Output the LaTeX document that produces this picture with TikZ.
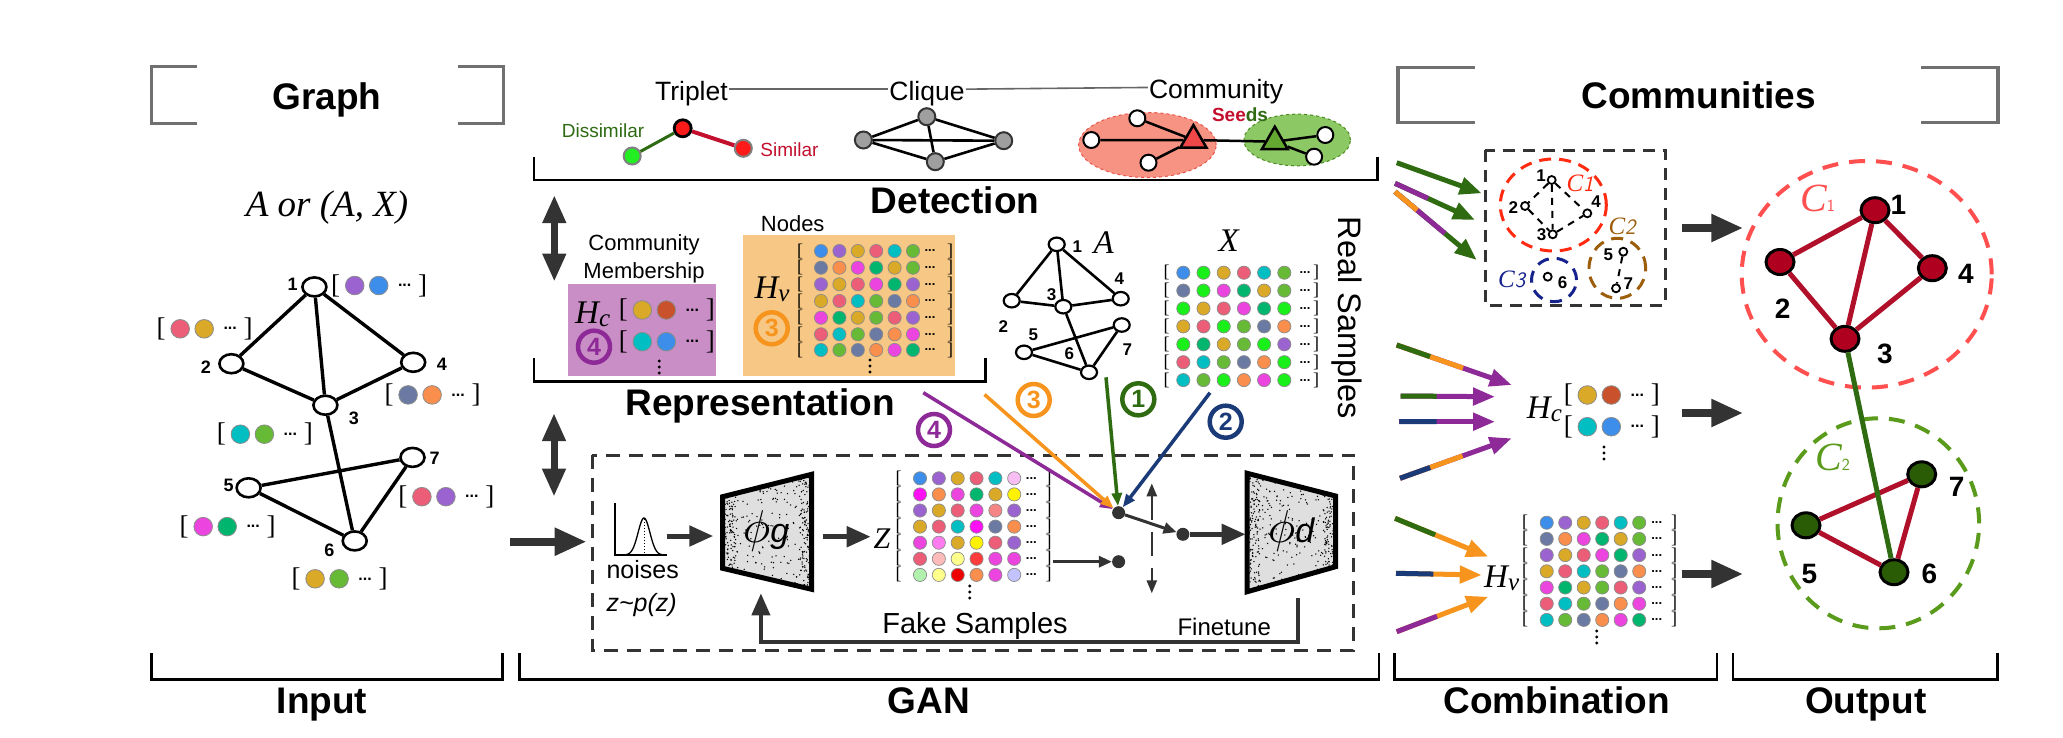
\documentclass[tikz,border=0pt]{standalone}
\usepackage{fontspec}
\setmainfont{Liberation Sans}
\newfontfamily\tms{Liberation Serif}
\usetikzlibrary{arrows.meta,shapes.geometric,calc}

\definecolor{dgray}{HTML}{333333}
\definecolor{bgray}{HTML}{707070}
\definecolor{circb}{HTML}{8C8C8C}
\definecolor{cBlue}{HTML}{3D8EEA}
\definecolor{cPurple}{HTML}{9B63CF}
\definecolor{cGold}{HTML}{D9A927}
\definecolor{cPink}{HTML}{EC5D78}
\definecolor{cCyan}{HTML}{00BEC2}
\definecolor{cGreen}{HTML}{67BA36}
\definecolor{cSlate}{HTML}{6A7AA3}
\definecolor{cOrange}{HTML}{F98E4D}
\definecolor{cMag}{HTML}{EC44DE}
\definecolor{cTeal}{HTML}{00B56E}
\definecolor{cBright}{HTML}{19F019}
\definecolor{cRust}{HTML}{C9512C}
\definecolor{cLpink}{HTML}{F8BDF3}
\definecolor{cFmag}{HTML}{FF10F5}
\definecolor{cYel}{HTML}{FFF200}
\definecolor{cSalm}{HTML}{F58585}
\definecolor{cPinkb}{HTML}{FF7CF0}
\definecolor{cLsalm}{HTML}{FFBABA}
\definecolor{cLyel}{HTML}{FFFF8C}
\definecolor{cRed}{HTML}{FF3B3B}
\definecolor{cRedb}{HTML}{EE0000}
\definecolor{cLgreen}{HTML}{B2F0AE}
\definecolor{cLav}{HTML}{C3C3FF}
\definecolor{kPur}{HTML}{8E2A97}
\definecolor{kOra}{HTML}{F7941D}
\definecolor{kGrn}{HTML}{2F6B10}
\definecolor{kNav}{HTML}{1B3A78}
\definecolor{boxPur}{HTML}{C98EC6}
\definecolor{boxOra}{HTML}{F6C785}
\definecolor{oRed}{HTML}{B0001F}
\definecolor{oRedE}{HTML}{B0102A}
\definecolor{oGrn}{HTML}{2A5C06}
\definecolor{oC1}{HTML}{FF4F4F}
\definecolor{oC2}{HTML}{5B9B1C}
\definecolor{mCa}{HTML}{FF2A10}
\definecolor{mCb}{HTML}{9C5E0B}
\definecolor{mCc}{HTML}{16238C}
\definecolor{tGreenT}{HTML}{2E6B12}
\definecolor{tRedT}{HTML}{C3102E}
\definecolor{tBright}{HTML}{22EE22}
\definecolor{tRed}{HTML}{FF1A1A}
\definecolor{comRed}{HTML}{F79382}
\definecolor{comRedB}{HTML}{E8544A}
\definecolor{comGrn}{HTML}{8CC864}
\definecolor{comGrnB}{HTML}{4A8A20}
\definecolor{triR}{HTML}{F04848}
\definecolor{triG}{HTML}{64A832}

\tikzset{
  hdr/.style={font=\bfseries\fontsize{37}{40}\selectfont, inner sep=0pt},
  txt/.style={font=\fontsize{25}{28}\selectfont, inner sep=0pt},
  ttl/.style={font=\fontsize{26.5}{28}\selectfont, inner sep=0pt},
  gnode/.style={ellipse, draw=black, fill=white, line width=2.6pt, minimum width=24pt, minimum height=19pt, inner sep=0pt},
  gedge/.style={line width=3.4pt, draw=black},
  glbl/.style={font=\bfseries\fontsize{18}{18}\selectfont, inner sep=0pt},
  brkt/.style={font=\tms\fontsize{27}{27}\selectfont, inner sep=0pt},
  vdotsn/.style={font=\bfseries\fontsize{16}{16}\selectfont, inner sep=0pt},
  mbrk/.style={font=\tms\fontsize{18}{18}\selectfont, inner sep=0pt},
  mdots/.style={font=\bfseries\fontsize{13}{13}\selectfont, inner sep=0pt},
  grayline/.style={line width=3.2pt, draw=bgray},
  blkbr/.style={line width=2.6pt, draw=black},
  fatarrow/.style={draw=dgray, line width=8pt, -{Triangle[length=32pt,width=26pt]}},
  medarrow/.style={draw=dgray, line width=5pt, -{Triangle[length=24pt,width=20pt]}},
  thinarrow/.style={draw=dgray, line width=3pt, -{Triangle[length=13pt,width=11pt]}},
  carrow/.style={line width=5pt, -{Triangle[length=22pt,width=17pt]}},
  cseg/.style={line width=5pt},
  convarr/.style={line width=3.5pt, -{Triangle[length=13pt,width=10pt]}},
  dotn/.style={circle, fill=dgray, minimum size=13pt, inner sep=0pt},
  cnum/.style={circle, line width=4.5pt, minimum size=32pt, inner sep=0pt, font=\bfseries\fontsize{25}{25}\selectfont},
  onode/.style={ellipse, draw=black, line width=3pt, minimum width=28pt, minimum height=25pt, inner sep=0pt},
  olbl/.style={font=\bfseries\fontsize{28}{28}\selectfont, inner sep=0pt},
  anode/.style={ellipse, draw=black, fill=white, line width=2.2pt, minimum width=16pt, minimum height=13.5pt, inner sep=0pt},
  aedge/.style={line width=2.6pt, draw=black},
  albl/.style={font=\bfseries\fontsize{17}{17}\selectfont, inner sep=0pt},
  mini/.style={circle, draw=black, fill=white, line width=1.8pt, minimum size=8pt, inner sep=0pt},
  miniedge/.style={line width=2pt, draw=black, dash pattern=on 7pt off 6pt},
  mlbl/.style={font=\bfseries\fontsize{17}{17}\selectfont, inner sep=0pt},
  clqnode/.style={circle, draw=dgray, fill=gray!75, line width=2pt, minimum size=17pt, inner sep=0pt},
  wnode/.style={circle, draw=black, fill=white, line width=2pt, minimum size=16pt, inner sep=0pt},
  serH/.style={font=\tms\itshape\fontsize{33}{33}\selectfont, inner sep=0pt},
}

\newcommand{\fvec}[4]{%
  \node[brkt] at (#1,#2) {[};
  \fill[#3, draw=circb, line width=0.8pt] (#1+19,#2) circle (9.3);
  \fill[#4, draw=circb, line width=0.8pt] (#1+43,#2) circle (9.3);
  \node[vdotsn] at (#1+69,#2) {...};
  \node[brkt] at (#1+87,#2) {]};
}
\newcommand{\mrow}[7]{%
  \node[mbrk] at (#1,#2) {[};
  \foreach \cc [count=\k from 0] in {#7} {\fill[\cc, draw=circb, line width=0.7pt] (#3+\k*#4,#2) circle (6.6);}
  \node[mdots] at (#5,#2) {...};
  \node[mbrk] at (#6,#2) {]};
}
\newcommand{\vdt}[2]{\foreach \dd in {-6,0,6} {\fill (#1,#2+\dd) circle (1.6);}}
% speckles: x0 y0 w h
\newcommand{\speck}[4]{%
  \foreach \i in {1,...,220} {\fill[black] ({#1+rnd*#3},{#2+rnd*#4}) circle (0.75);}
  \foreach \i in {1,...,130} {\fill[black] ({#1+rnd*13},{#2+rnd*#4}) circle (0.75);}
  \foreach \i in {1,...,130} {\fill[black] ({#1+#3-rnd*13},{#2+rnd*#4}) circle (0.75);}
}

\begin{document}
\begin{tikzpicture}[x=1pt,y=-1pt]
\fill[white] (0,0) rectangle (2063,737);
\useasboundingbox (0,0) rectangle (2063,737);

% ---------------- headers -----------------
\draw[grayline] (197.3,66.8) -- (151.5,66.8) -- (151.5,123.5) -- (197.3,123.5);
\draw[grayline] (458,66.8) -- (503.4,66.8) -- (503.4,123.5) -- (458,123.5);
\node[hdr, anchor=base] (tGraph) at (327,109.2) {Graph};
\draw[grayline] (1474.5,67.3) -- (1398,67.3) -- (1398,122.3) -- (1474.5,122.3);
\draw[grayline] (1921,67.3) -- (1998,67.3) -- (1998,122.3) -- (1921,122.3);
\node[hdr, anchor=base] (tComms) at (1698.7,108.3) {Communities};

% bottom brackets
\draw[blkbr] (151.3,653.3) -- (151.3,679.3) -- (502.6,679.3) -- (502.6,653.3);
\draw[blkbr] (519.7,653.3) -- (519.7,679.3) -- (1379,679.3) -- (1379,653.3);
\draw[blkbr] (1394.7,653.3) -- (1394.7,679.3) -- (1717,679.3) -- (1717,653.3);
\draw[blkbr] (1733,653.3) -- (1733,679.3) -- (1997.4,679.3) -- (1997.4,653.3);
\node[hdr, anchor=base] (tInput) at (322,713) {Input};
\node[hdr, anchor=base] (tGAN) at (929,713) {GAN};
\node[hdr, anchor=base] (tComb) at (1556.6,713) {Combination};
\node[hdr, anchor=base] (tOut) at (1865.8,713) {Output};

% ---------------- input graph -----------------
\node[font=\tms\itshape\fontsize{37}{37}\selectfont, anchor=base, inner sep=0pt] (tAX) at (327,216) {A or (A, X)};
\node[gnode] (g1) at (314.4,286.9) {};
\node[gnode] (g2) at (231.4,363.7) {};
\node[gnode] (g3) at (325.4,405.2) {};
\node[gnode] (g4) at (413.2,362.3) {};
\node[gnode] (g5) at (248.6,487.8) {};
\node[gnode] (g6) at (354.7,540.9) {};
\node[gnode] (g7) at (412.5,457.4) {};
\draw[gedge] (g1)--(g2) (g1)--(g3) (g1)--(g4) (g2)--(g3) (g3)--(g4) (g3)--(g6) (g5)--(g7) (g5)--(g6) (g6)--(g7);
\node[glbl] (gl1) at (292.7,284.6) {1};
\node[glbl] (gl2) at (205.9,367.2) {2};
\node[glbl] (gl3) at (354,418.6) {3};
\node[glbl] (gl4) at (441.8,364.6) {4};
\node[glbl] (gl5) at (228.6,485) {5};
\node[glbl] (gl6) at (329.5,550.3) {6};
\node[glbl] (gl7) at (434.6,457.9) {7};
\fvec{335.7}{285.5}{cPurple}{cBlue}
\fvec{161.2}{328.8}{cPink}{cGold}
\fvec{389.1}{394.9}{cSlate}{cOrange}
\fvec{221.4}{434.2}{cCyan}{cGreen}
\fvec{402.9}{496.7}{cPink}{cPurple}
\fvec{184.2}{526.6}{cMag}{cTeal}
\fvec{296.1}{578.8}{cGold}{cGreen}

% ---------------- detection -----------------
\node[ttl, anchor=base] (tTrip) at (691.4,100) {Triplet};
\node[ttl, anchor=base] (tClq) at (927,100) {Clique};
\node[ttl, anchor=base] (tComm) at (1216,98.3) {Community};
\draw[line width=1.6pt, draw=gray!80!black] ([yshift=4pt,xshift=1pt]tTrip.east) -- ([yshift=4pt,xshift=-1pt]tClq.west);
\draw[line width=1.6pt, draw=gray!80!black] ([yshift=4pt,xshift=1pt]tClq.east) -- ([yshift=4pt,xshift=-1pt]tComm.west);

\node[circle, draw=gray, fill=tBright, line width=2pt, minimum size=17pt, inner sep=0pt] (tg) at (632.2,156) {};
\node[circle, draw=black, fill=tRed, line width=2.8pt, minimum size=17pt, inner sep=0pt] (tr1) at (682.7,128.3) {};
\node[circle, draw=gray, fill=tRed, line width=2pt, minimum size=17pt, inner sep=0pt] (tr2) at (743.3,148.3) {};
\draw[line width=3pt, tGreenT] (tg) -- (tr1);
\draw[line width=4pt, tRedT] (tr1) -- (tr2);
\node[font=\fontsize{19}{19}\selectfont, text=tGreenT, anchor=base, inner sep=0pt] (tDis) at (603,137.3) {Dissimilar};
\node[font=\fontsize{19}{19}\selectfont, text=tRedT, anchor=base, inner sep=0pt] (tSim) at (789.4,156) {Similar};

\node[clqnode] (q1) at (926.8,116.7) {};
\node[clqnode] (q2) at (863.4,140) {};
\node[clqnode] (q3) at (1003.7,140.7) {};
\node[clqnode] (q4) at (935.3,161.7) {};
\draw[line width=2.6pt] (q1)--(q2) (q1)--(q3) (q1)--(q4) (q2)--(q3) (q2)--(q4) (q3)--(q4);

\node[ellipse, fill=comRed, draw=comRedB, dashed, line width=1pt, minimum width=137.5pt, minimum height=65pt] (ecr) at (1147.4,145) {};
\node[ellipse, fill=comGrn, draw=comGrnB, dashed, line width=1pt, minimum width=106.6pt, minimum height=51.7pt] (ecg) at (1297.2,140) {};
\node[wnode] (w1) at (1137.3,118.3) {};
\node[wnode] (w2) at (1091.3,140) {};
\node[wnode] (w3) at (1148.5,162.7) {};
\node[wnode] (w4) at (1325.3,135) {};
\node[wnode] (w5) at (1314.1,156.7) {};
\node[regular polygon, regular polygon sides=3, draw=black, line width=2.5pt, fill=triR, minimum size=30pt, inner sep=0pt] (trR) at (1193.4,140) {};
\node[regular polygon, regular polygon sides=3, draw=black, line width=2.5pt, fill=triG, minimum size=30pt, inner sep=0pt] (trG) at (1274.8,141.7) {};
\draw[line width=2.5pt] (w1)--(trR) (w2)--(trR) (w3)--(trR) (trR)--(trG) (trG)--(w4) (trG)--(w5);
\node[font=\bfseries\fontsize{19}{19}\selectfont, anchor=base, inner sep=0pt] (tSeeds) at (1240,121.7) {\textcolor{tRedT}{See}\textcolor{tGreenT}{ds}};

\draw[blkbr] (534,156.7) -- (534,180) -- (1377.5,180) -- (1377.5,156.7);
\node[hdr, anchor=base] (tDet) at (955,213) {Detection};

% double arrows
\coordinate (da1t) at (554.3,195);
\coordinate (da1b) at (554.3,281.7);
\coordinate (da2t) at (554,413);
\coordinate (da2b) at (554,496.7);
\draw[dgray, line width=7pt, {Triangle[length=28pt,width=22pt]}-{Triangle[length=28pt,width=22pt]}] (da1t) -- (da1b);
\draw[dgray, line width=7pt, {Triangle[length=28pt,width=22pt]}-{Triangle[length=28pt,width=22pt]}] (da2t) -- (da2b);

% ---------------- representation -----------------
\node[font=\fontsize{22}{22}\selectfont, anchor=base, inner sep=0pt] (tCM1) at (644,250) {Community};
\node[font=\fontsize{22}{22}\selectfont, anchor=base, inner sep=0pt] (tCM2) at (644,278.3) {Membership};
\node[fill=boxPur, minimum width=148.7pt, minimum height=91.7pt, inner sep=0pt, anchor=north west] (hcbox) at (567.3,284) {};
\node[fill=boxOra, minimum width=212.7pt, minimum height=140.7pt, inner sep=0pt, anchor=north west] (hvbox) at (742.3,235) {};
\node[font=\fontsize{22}{22}\selectfont, anchor=base, inner sep=0pt] (tNodes) at (792.7,231.7) {Nodes};

\node[serH, anchor=base west] (hcl) at (575,323) {H\raisebox{-3pt}{\fontsize{25}{25}\selectfont c}};
\node[cnum, draw=kPur, text=kPur] (n4a) at (594,346.7) {4};
\fvec{623.3}{310}{cGold}{cRust}
\fvec{623.3}{341.7}{cCyan}{cBlue}
\vdt{659.3}{367}

\node[serH, anchor=base west] (hvl) at (754.3,298.3) {H\raisebox{-3pt}{\fontsize{25}{25}\selectfont v}};
\node[cnum, draw=kOra, text=kOra] (n3a) at (771.7,328.3) {3};
\mrow{800}{251}{821}{18.4}{930}{950}{cBlue,cPurple,cGold,cPink,cCyan,cGreen}
\mrow{800}{267.7}{821}{18.4}{930}{950}{cSlate,cOrange,cMag,cTeal,cGold,cGreen}
\mrow{800}{284.3}{821}{18.4}{930}{950}{cPurple,cGold,cPink,cMag,cTeal,cPurple}
\mrow{800}{301}{821}{18.4}{930}{950}{cGold,cPink,cCyan,cGreen,cSlate,cOrange}
\mrow{800}{317.7}{821}{18.4}{930}{950}{cMag,cTeal,cGold,cGreen,cPink,cPurple}
\mrow{800}{334.3}{821}{18.4}{930}{950}{cPink,cCyan,cGreen,cSlate,cOrange,cMag}
\mrow{800}{350}{821}{18.4}{930}{950}{cCyan,cGreen,cSlate,cOrange,cMag,cTeal}
\vdt{870}{366}

\draw[blkbr] (534,358) -- (534,381.7) -- (985.7,381.7) -- (985.7,358);
\node[hdr, anchor=base] (tRep) at (760,415) {Representation};

% A graph
\node[anode] (a1) at (1056.7,244.3) {};
\node[anode] (a2) at (1011.7,300.7) {};
\node[anode] (a3) at (1063.3,306.7) {};
\node[anode] (a4) at (1120.7,298.7) {};
\node[anode] (a5) at (1024,352.3) {};
\node[anode] (a6) at (1089,372.3) {};
\node[anode] (a7) at (1121.7,325) {};
\draw[aedge] (a1)--(a2) (a1)--(a3) (a1)--(a4) (a2)--(a3) (a3)--(a4) (a3)--(a6) (a5)--(a7) (a5)--(a6) (a6)--(a7);
\node[albl] (al1) at (1077.3,246.7) {1};
\node[albl] (al2) at (1003.3,326.7) {2};
\node[albl] (al3) at (1051.7,295) {3};
\node[albl] (al4) at (1119.3,278.3) {4};
\node[albl] (al5) at (1033.3,335) {5};
\node[albl] (al6) at (1069.3,353.3) {6};
\node[albl] (al7) at (1127.3,349.3) {7};
\node[serH, anchor=base west] (tA) at (1093.3,253.3) {A};
\node[serH, anchor=base west] (tX) at (1218.3,251.7) {X};
\mrow{1166.7}{272.7}{1183.3}{20.2}{1305}{1316}{cBlue,cBright,cGold,cPink,cCyan,cGreen}
\mrow{1166.7}{290.6}{1183.3}{20.2}{1305}{1316}{cSlate,cBright,cMag,cTeal,cGold,cGreen}
\mrow{1166.7}{308.5}{1183.3}{20.2}{1305}{1316}{cBright,cGold,cPink,cMag,cTeal,cBright}
\mrow{1166.7}{326.4}{1183.3}{20.2}{1305}{1316}{cGold,cPink,cBright,cGreen,cSlate,cOrange}
\mrow{1166.7}{344.3}{1183.3}{20.2}{1305}{1316}{cBright,cTeal,cGold,cGreen,cBright,cPurple}
\mrow{1166.7}{362.2}{1183.3}{20.2}{1305}{1316}{cPink,cCyan,cGreen,cSlate,cOrange,cBright}
\mrow{1166.7}{380.1}{1183.3}{20.2}{1305}{1316}{cCyan,cGreen,cBright,cOrange,cMag,cBright}
\node[font=\fontsize{32.5}{32.5}\selectfont, rotate=-90, inner sep=0pt] (tReal) at (1347,318) {Real Samples};

% circled numbers
\node[cnum, draw=kGrn, text=kGrn] (n1) at (1138.3,399.3) {1};
\node[cnum, draw=kNav, text=kNav] (n2) at (1225.7,421.7) {2};
\node[cnum, draw=kOra, text=kOra] (n3) at (1033.7,400) {3};
\node[cnum, draw=kPur, text=kPur] (n4) at (934,430) {4};

% ---------------- GAN -----------------
\draw[dgray, line width=3pt, dash pattern=on 14pt off 9pt] (592,455) rectangle (1353.8,650);
\coordinate (inS) at (510,541.7);
\coordinate (inT) at (586.7,541.7);
\draw[fatarrow] (inS) -- (inT);

% noise icon
\draw[line width=1.3pt] (615,503.3) -- (615,555) -- (666.7,555);
\draw[line width=1.3pt] plot[domain=617:666, samples=60, smooth] (\x,{555-37*exp(-(\x-644)*(\x-644)/70)});
\draw[line width=1pt, dotted] (644,519) -- (644,555);
\node[txt, anchor=base] (tNoise) at (642.7,578.3) {noises};
\node[txt, anchor=base] (tPz) at (641.7,611.7) {\itshape z\textasciitilde p(z)};
\coordinate (nzA) at (666.7,536);
\coordinate (nzB) at (713.3,536);
\draw[medarrow] (nzA) -- (nzB);

% phi_g
\coordinate (pg1) at (722.7,496.7);
\coordinate (pg2) at (811.7,474.3);
\coordinate (pg3) at (811.7,589.3);
\coordinate (pg4) at (722.7,568.3);
\fill[gray!25] (pg1) -- (pg2) -- (pg3) -- (pg4) -- cycle;
\begin{scope}
\clip (pg1) -- (pg2) -- (pg3) -- (pg4) -- cycle;
\pgfmathsetseed{7}
\speck{722.7}{474.3}{89}{115}
\end{scope}
\draw[line width=5pt, line join=miter] (pg1) -- (pg2) -- (pg3) -- (pg4) -- cycle;
\node[inner sep=0pt] (phig) at (766,531) {\scalebox{4.6}{$\phi$}\fontsize{34}{34}\selectfont\itshape g};

\coordinate (gzA) at (822.5,536.7);
\coordinate (gzB) at (870.7,536.7);
\draw[medarrow] (gzA) -- (gzB);
\node[font=\tms\itshape\fontsize{30}{30}\selectfont, anchor=base west, inner sep=0pt] (tZ) at (873.3,548.3) {Z};

\mrow{898.5}{478.3}{920}{18.84}{1031.3}{1048.5}{cBlue,cPurple,cGold,cPink,cCyan,cLpink}
\mrow{898.5}{494.4}{920}{18.84}{1031.3}{1048.5}{cFmag,cOrange,cMag,cTeal,cGold,cYel}
\mrow{898.5}{510.5}{920}{18.84}{1031.3}{1048.5}{cPurple,cGold,cPink,cMag,cSalm,cPurple}
\mrow{898.5}{526.6}{920}{18.84}{1031.3}{1048.5}{cGold,cPink,cCyan,cFmag,cSlate,cOrange}
\mrow{898.5}{542.7}{920}{18.84}{1031.3}{1048.5}{cMag,cPinkb,cGold,cYel,cPink,cPurple}
\mrow{898.5}{558.8}{920}{18.84}{1031.3}{1048.5}{cPink,cLsalm,cLyel,cRed,cMag,cMag}
\mrow{898.5}{574.9}{920}{18.84}{1031.3}{1048.5}{cLgreen,cLyel,cRedb,cOrange,cMag,cLav}
\vdt{969.7}{592}

\node[dotn] (du) at (1118.6,512.7) {};
\node[dotn] (dl) at (1118.6,561.7) {};
\node[dotn] (dm) at (1182.9,534.3) {};
\coordinate (fkS) at (1052.8,561.7);
\draw[thinarrow] (fkS) -- (dl);
\draw[thinarrow] (du) -- (dm);

% converging lines
\coordinate (s4) at (923.3,392.7);
\coordinate (s3) at (984.5,394.5);
\coordinate (s1) at (1106,377.3);
\coordinate (s2) at (1210,392.7);
\draw[convarr, kPur] (s4) -- (du);
\draw[convarr, kOra] (s3) -- (du);
\draw[convarr, kGrn] (s1) -- (du);
\draw[convarr, kNav] (s2) -- (du);

% switch
\coordinate (swT) at (1151.8,483.3);
\coordinate (swB) at (1151.8,593.3);
\draw[dgray, line width=2.5pt, dash pattern=on 24pt off 12pt, {Triangle[length=13pt,width=10pt]}-{Triangle[length=13pt,width=10pt]}] (swT) -- (swB);

% phi_d
\coordinate (pd1) at (1247.2,473.3);
\coordinate (pd2) at (1335.6,496);
\coordinate (pd3) at (1335.6,566.7);
\coordinate (pd4) at (1247.2,591.7);
\fill[gray!25] (pd1) -- (pd2) -- (pd3) -- (pd4) -- cycle;
\begin{scope}
\clip (pd1) -- (pd2) -- (pd3) -- (pd4) -- cycle;
\pgfmathsetseed{11}
\speck{1247.2}{473.3}{88.4}{118.4}
\end{scope}
\draw[line width=5pt, line join=miter] (pd1) -- (pd2) -- (pd3) -- (pd4) -- cycle;
\node[inner sep=0pt] (phid) at (1291,531) {\scalebox{4.6}{$\phi$}\fontsize{34}{34}\selectfont\itshape d};
\coordinate (pdIn) at (1245.6,534.3);
\draw[medarrow] (dm) -- (pdIn);

% feedback
\coordinate (fb1) at (1298,598.3);
\coordinate (fb2) at (1298,641.7);
\coordinate (fb3) at (760.9,641.7);
\coordinate (fb4) at (760.9,593.3);
\draw[dgray, line width=4pt, -{Triangle[length=22pt,width=18pt]}] (fb1) -- (fb2) -- (fb3) -- (fb4);
\node[font=\fontsize{29}{29}\selectfont, anchor=base, inner sep=0pt] (tFake) at (975,633.3) {Fake Samples};
\node[font=\fontsize{24}{24}\selectfont, anchor=base, inner sep=0pt] (tFine) at (1224.2,635) {Finetune};

% ---------------- combination -----------------
\draw[dgray, line width=3pt, dash pattern=on 12pt off 8pt] (1485,150) rectangle (1665,305);
\node[ellipse, draw=mCa, line width=3pt, dash pattern=on 12pt off 8pt, minimum width=106pt, minimum height=92pt, inner sep=0pt] (mc1) at (1553.3,205) {};
\node[ellipse, draw=mCb, line width=3pt, dash pattern=on 12pt off 8pt, minimum width=56.6pt, minimum height=60pt, inner sep=0pt] (mc2) at (1617.3,268.3) {};
\node[ellipse, draw=mCc, line width=3pt, dash pattern=on 12pt off 8pt, minimum width=45pt, minimum height=43.4pt, inner sep=0pt] (mc3) at (1554,280) {};
\node[mini] (m1) at (1551.7,180) {};
\node[mini] (m2) at (1525,206) {};
\node[mini] (m3) at (1552.7,234.3) {};
\node[mini] (m4) at (1587.3,213.3) {};
\node[mini] (m5) at (1623.3,251.7) {};
\node[mini] (m6) at (1547.7,276.7) {};
\node[mini] (m7) at (1616,288.3) {};
\draw[miniedge] (m1)--(m2) (m1)--(m3) (m1)--(m4) (m2)--(m3) (m3)--(m4) (m5)--(m7);
\node[mlbl] (ml1) at (1541,176) {1};
\node[mlbl] (ml2) at (1513.3,207.3) {2};
\node[mlbl] (ml3) at (1541.7,235) {3};
\node[mlbl] (ml4) at (1596,201.7) {4};
\node[mlbl] (ml5) at (1608.3,255) {5};
\node[mlbl] (ml6) at (1562.7,282.7) {6};
\node[mlbl] (ml7) at (1628.3,283.3) {7};
\node[text=mCa, inner sep=0pt] (mC1l) at (1580,183.3) {\tms\itshape\fontsize{25}{25}\selectfont C\fontsize{22}{22}\selectfont\sffamily 1};
\node[text=mCb, inner sep=0pt] (mC2l) at (1622,226) {\tms\itshape\fontsize{25}{25}\selectfont C\fontsize{22}{22}\selectfont\sffamily 2};
\node[text=mCc, inner sep=0pt] (mC3l) at (1511.7,279.3) {\tms\itshape\fontsize{25}{25}\selectfont C\fontsize{22}{22}\selectfont\sffamily 3};

% arrows into detection result
\coordinate (a1s) at (1396.7,162.7); \coordinate (a1t) at (1481.7,193.3);
\coordinate (a2s) at (1395,183.3);   \coordinate (a2t) at (1475,220);
\coordinate (a3s) at (1395,191.7);   \coordinate (a3t) at (1476.7,260);
\draw[carrow, kGrn] (a1s) -- (a1t);
\draw[carrow, kGrn] (a2s) -- (a2t);
\draw[cseg, kPur] (a2s) -- ($(a2s)!0.41!(a2t)$);
\draw[carrow, kGrn] (a3s) -- (a3t);
\draw[cseg, kPur] (a3s) -- ($(a3s)!0.61!(a3t)$);
\draw[cseg, kOra] (a3s) -- ($(a3s)!0.27!(a3t)$);

% Hc
\node[serH, anchor=base west] (hcl2) at (1526.7,418) {H\raisebox{-3pt}{\fontsize{25}{25}\selectfont c}};
\fvec{1568.3}{395}{cGold}{cRust}
\fvec{1568.3}{426.7}{cCyan}{cBlue}
\vdt{1604}{453}
\coordinate (b1s) at (1396.7,345);   \coordinate (b1t) at (1511.7,385);
\coordinate (b2s) at (1400.7,396);   \coordinate (b2t) at (1495,396.7);
\coordinate (b3s) at (1399.3,421.7); \coordinate (b3t) at (1495,421.7);
\coordinate (b4s) at (1400,478.3);   \coordinate (b4t) at (1511.7,438.3);
\draw[carrow, kPur] (b1s) -- (b1t);
\draw[cseg, kOra] (b1s) -- ($(b1s)!0.577!(b1t)$);
\draw[cseg, kGrn] (b1s) -- ($(b1s)!0.29!(b1t)$);
\draw[carrow, kPur] (b2s) -- (b2t);
\draw[cseg, kGrn] (b2s) -- ($(b2s)!0.38!(b2t)$);
\draw[carrow, kPur] (b3s) -- (b3t);
\draw[cseg, kNav] (b3s) -- ($(b3s)!0.39!(b3t)$);
\draw[carrow, kPur] (b4s) -- (b4t);
\draw[cseg, kOra] (b4s) -- ($(b4s)!0.56!(b4t)$);
\draw[cseg, kNav] (b4s) -- ($(b4s)!0.27!(b4t)$);

% Hv
\node[serH, anchor=base west] (hvl2) at (1484,587) {H\raisebox{-3pt}{\fontsize{25}{25}\selectfont v}};
\mrow{1525}{522.7}{1546.7}{18.5}{1656.7}{1674}{cBlue,cPurple,cGold,cPink,cCyan,cGreen}
\mrow{1525}{538.9}{1546.7}{18.5}{1656.7}{1674}{cSlate,cOrange,cMag,cTeal,cGold,cGreen}
\mrow{1525}{555.1}{1546.7}{18.5}{1656.7}{1674}{cPurple,cGold,cPink,cMag,cTeal,cPurple}
\mrow{1525}{571.3}{1546.7}{18.5}{1656.7}{1674}{cGold,cPink,cCyan,cGreen,cSlate,cOrange}
\mrow{1525}{587.5}{1546.7}{18.5}{1656.7}{1674}{cMag,cTeal,cGold,cGreen,cPink,cPurple}
\mrow{1525}{603.7}{1546.7}{18.5}{1656.7}{1674}{cPink,cCyan,cGreen,cSlate,cOrange,cMag}
\mrow{1525}{619.9}{1546.7}{18.5}{1656.7}{1674}{cCyan,cGreen,cSlate,cOrange,cMag,cTeal}
\vdt{1596.7}{637}
\coordinate (c1s) at (1395,518.3);   \coordinate (c1t) at (1488.3,556.7);
\coordinate (c2s) at (1396,573.3);   \coordinate (c2t) at (1481.7,575);
\coordinate (c3s) at (1396.7,631.7); \coordinate (c3t) at (1488.3,596.7);
\draw[carrow, kOra] (c1s) -- (c1t);
\draw[cseg, kGrn] (c1s) -- ($(c1s)!0.43!(c1t)$);
\draw[carrow, kOra] (c2s) -- (c2t);
\draw[cseg, kNav] (c2s) -- ($(c2s)!0.435!(c2t)$);
\draw[carrow, kOra] (c3s) -- (c3t);
\draw[cseg, kPur] (c3s) -- ($(c3s)!0.44!(c3t)$);

% arrows to output
\coordinate (o1s) at (1681.7,228);   \coordinate (o1t) at (1743.3,228);
\coordinate (o2s) at (1681.7,413);   \coordinate (o2t) at (1743.3,413);
\coordinate (o3s) at (1681.7,574);   \coordinate (o3t) at (1743.3,574);
\draw[fatarrow] (o1s) -- (o1t);
\draw[fatarrow] (o2s) -- (o2t);
\draw[fatarrow] (o3s) -- (o3t);

% ---------------- output -----------------
\node[ellipse, draw=oC1, line width=4pt, dash pattern=on 16pt off 11pt, minimum width=250pt, minimum height=226.6pt, inner sep=0pt] (oc1) at (1866.7,274.3) {};
\node[ellipse, draw=oC2, line width=4pt, dash pattern=on 16pt off 11pt, minimum width=201.6pt, minimum height=210pt, inner sep=0pt] (oc2) at (1878.3,523.3) {};
\node[onode, fill=oRed] (o1) at (1875,210.2) {};
\node[onode, fill=oRed] (o2) at (1780,262) {};
\node[onode, fill=oRed] (o3) at (1845,338.8) {};
\node[onode, fill=oRed] (o4) at (1932.3,268.2) {};
\node[onode, fill=oGrn] (o5) at (1806,525.3) {};
\node[onode, fill=oGrn] (o6) at (1894,572.2) {};
\node[onode, fill=oGrn] (o7) at (1921.7,474.3) {};
\draw[line width=5pt, oRedE] (o1)--(o2) (o1)--(o3) (o1)--(o4) (o2)--(o3) (o3)--(o4) (o5)--(o7) (o5)--(o6) (o6)--(o7);
\draw[line width=5pt, kGrn] (o3)--(o6);
\node[olbl] (ol1) at (1898.3,204.9) {1};
\node[olbl] (ol2) at (1782.7,309) {2};
\node[olbl] (ol3) at (1885,353.9) {3};
\node[olbl] (ol4) at (1966,274.3) {4};
\node[olbl] (ol5) at (1809.3,574.3) {5};
\node[olbl] (ol6) at (1929.3,574.3) {6};
\node[olbl] (ol7) at (1956.7,486.5) {7};
\node[text=oC1, anchor=base west, inner sep=0pt] (oC1l) at (1800,211.8) {\tms\itshape\fontsize{40}{40}\selectfont C\fontsize{17}{17}\selectfont\sffamily\upshape 1};
\node[text=oC2, anchor=base west, inner sep=0pt] (oC2l) at (1815,470) {\tms\itshape\fontsize{40}{40}\selectfont C\fontsize{17}{17}\selectfont\sffamily\upshape 2};

\end{tikzpicture}
\end{document}
